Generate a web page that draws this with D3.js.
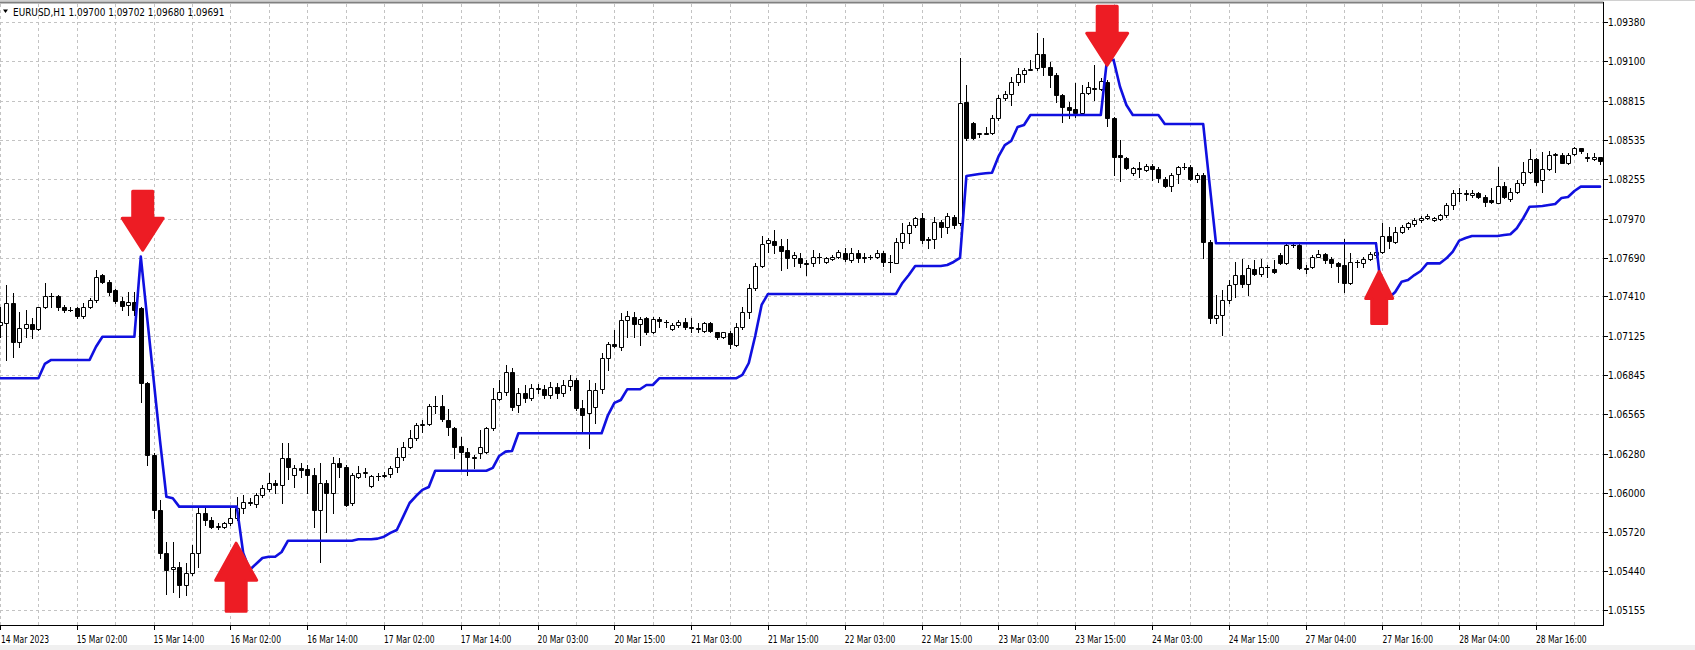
<!DOCTYPE html>
<html><head><meta charset="utf-8">
<script src="https://cdn.jsdelivr.net/npm/d3@7"></script>
<style>
html,body{margin:0;padding:0;background:#fff;}
svg{display:block;}
text{font-family:"DejaVu Sans",Tahoma,sans-serif;}
</style></head>
<body>
<svg id="chart" width="1695" height="650"></svg>
<script>
// ---------------- data ----------------
const header = "EURUSD,H1  1.09700 1.09702 1.09680 1.09691";
const xLabels = ["14 Mar 2023","15 Mar 02:00","15 Mar 14:00","16 Mar 02:00","16 Mar 14:00","17 Mar 02:00","17 Mar 14:00","20 Mar 03:00","20 Mar 15:00","21 Mar 03:00","21 Mar 15:00","22 Mar 03:00","22 Mar 15:00","23 Mar 03:00","23 Mar 15:00","24 Mar 03:00","24 Mar 15:00","27 Mar 04:00","27 Mar 16:00","28 Mar 04:00","28 Mar 16:00"];
const yTicks = [1.09380,1.09100,1.08815,1.08535,1.08255,1.07970,1.07690,1.07410,1.07125,1.06845,1.06565,1.06280,1.06000,1.05720,1.05440,1.05155];

const open = [
1.07205,1.07217,1.07361,1.07085,1.07181,1.07210,1.07174,1.07332,1.07416,1.07416,
1.07332,1.07313,1.07325,1.07272,1.07337,1.07385,1.07564,1.07516,1.07457,1.07380,
1.07349,1.07373,1.07325,1.06786,1.06271,1.05876,1.05565,1.05450,1.05469,1.05337,
1.05421,1.05565,1.05852,1.05804,1.05756,1.05756,1.05780,1.05816,1.05888,1.05936,
1.05919,1.05984,1.06024,1.06068,1.06056,1.06247,1.06127,1.06175,1.06168,1.06127,
1.05876,1.06068,1.05996,1.06211,1.06187,1.05924,1.06115,1.06144,1.06048,1.06120,
1.06118,1.06132,1.06183,1.06254,1.06331,1.06391,1.06487,1.06495,1.06623,1.06623,
1.06523,1.06468,1.06336,1.06295,1.06259,1.06283,1.06295,1.06463,1.06671,1.06724,
1.06867,1.06630,1.06717,1.06681,1.06752,1.06745,1.06702,1.06760,1.06717,1.06767,
1.06810,1.06609,1.06573,1.06618,1.06743,1.06966,1.07069,1.07050,1.07241,1.07265,
1.07212,1.07258,1.07157,1.07246,1.07229,1.07174,1.07205,1.07229,1.07193,1.07181,
1.07164,1.07222,1.07157,1.07121,1.07150,1.07062,1.07193,1.07301,1.07469,1.07629,
1.07797,1.07811,1.07773,1.07744,1.07684,1.07684,1.07648,1.07648,1.07696,1.07660,
1.07679,1.07696,1.07720,1.07672,1.07725,1.07689,1.07691,1.07691,1.07720,1.07660,
1.07653,1.07799,1.07864,1.07924,1.07972,1.07821,1.07821,1.07948,1.07912,1.07984,
1.07936,1.08810,1.08659,1.08580,1.08583,1.08583,1.08690,1.08834,1.08865,1.08954,
1.09009,1.09038,1.09050,1.09150,1.09062,1.09002,1.08858,1.08770,1.08755,1.08731,
1.08875,1.08911,1.08899,1.08954,1.08690,1.08427,1.08403,1.08295,1.08331,1.08319,
1.08350,1.08324,1.08252,1.08204,1.08288,1.08343,1.08340,1.08252,1.08283,1.07804,
1.07258,1.07277,1.07385,1.07497,1.07564,1.07500,1.07605,1.07572,1.07624,1.07608,
1.07708,1.07648,1.07780,1.07780,1.07612,1.07619,1.07696,1.07715,1.07677,1.07653,
1.07636,1.07504,1.07660,1.07653,1.07677,1.07708,1.07732,1.07845,1.07804,1.07876,
1.07907,1.07931,1.07960,1.07976,1.07960,1.07967,1.07996,1.08067,1.08156,1.08151,
1.08139,1.08151,1.08122,1.08103,1.08084,1.08204,1.08108,1.08163,1.08228,1.08307,
1.08395,1.08247,1.08324,1.08427,1.08427,1.08367,1.08431,1.08474,1.08415,1.08395,
1.08410];

const high = [
1.07337,1.07493,1.07433,1.07301,1.07313,1.07253,1.07337,1.07504,1.07437,1.07421,
1.07349,1.07337,1.07337,1.07361,1.07397,1.07600,1.07572,1.07528,1.07461,1.07409,
1.07445,1.07445,1.07337,1.06798,1.06283,1.05948,1.05648,1.05648,1.05505,1.05493,
1.05624,1.05888,1.05900,1.05828,1.05780,1.05792,1.05888,1.05972,1.05984,1.05960,
1.05996,1.06056,1.06140,1.06091,1.06355,1.06355,1.06199,1.06211,1.06199,1.06175,
1.06211,1.06092,1.06259,1.06247,1.06199,1.06139,1.06192,1.06175,1.06127,1.06139,
1.06151,1.06192,1.06319,1.06367,1.06451,1.06503,1.06523,1.06638,1.06695,1.06702,
1.06599,1.06475,1.06403,1.06319,1.06271,1.06451,1.06475,1.06750,1.06810,1.06918,
1.06896,1.06752,1.06774,1.06781,1.06781,1.06774,1.06796,1.06788,1.06810,1.06846,
1.06824,1.06666,1.06810,1.06786,1.07002,1.07085,1.07169,1.07289,1.07306,1.07301,
1.07265,1.07265,1.07260,1.07260,1.07241,1.07217,1.07241,1.07253,1.07253,1.07217,
1.07229,1.07229,1.07157,1.07157,1.07164,1.07217,1.07337,1.07500,1.07653,1.07845,
1.07828,1.07888,1.07821,1.07821,1.07732,1.07720,1.07672,1.07744,1.07720,1.07696,
1.07708,1.07744,1.07756,1.07756,1.07744,1.07720,1.07708,1.07744,1.07739,1.07708,
1.07828,1.07936,1.07948,1.07984,1.08007,1.07840,1.07984,1.07960,1.08008,1.07996,
1.09122,1.08930,1.08667,1.08588,1.08626,1.08714,1.08858,1.08889,1.08990,1.09050,
1.09050,1.09110,1.09301,1.09265,1.09098,1.09014,1.08865,1.08810,1.08942,1.08930,
1.08954,1.09074,1.08978,1.08966,1.08702,1.08535,1.08415,1.08343,1.08379,1.08362,
1.08362,1.08343,1.08271,1.08295,1.08348,1.08367,1.08355,1.08295,1.08295,1.07816,
1.07421,1.07457,1.07529,1.07660,1.07677,1.07636,1.07672,1.07677,1.07636,1.07672,
1.07720,1.07792,1.07787,1.07787,1.07636,1.07708,1.07744,1.07725,1.07696,1.07660,
1.07821,1.07725,1.07672,1.07696,1.07732,1.07804,1.07940,1.07912,1.07912,1.07924,
1.07948,1.07972,1.07988,1.08000,1.07979,1.08003,1.08079,1.08175,1.08187,1.08175,
1.08175,1.08163,1.08139,1.08187,1.08343,1.08235,1.08187,1.08247,1.08379,1.08467,
1.08403,1.08451,1.08458,1.08443,1.08439,1.08439,1.08482,1.08474,1.08443,1.08439,
1.08415];

const low = [
1.07121,1.06954,1.06978,1.07049,1.07121,1.07109,1.07169,1.07325,1.07337,1.07313,
1.07301,1.07303,1.07253,1.07253,1.07325,1.07373,1.07504,1.07421,1.07361,1.07313,
1.07277,1.07277,1.06654,1.06199,1.05816,1.05529,1.05270,1.05289,1.05253,1.05265,
1.05409,1.05469,1.05768,1.05744,1.05742,1.05744,1.05768,1.05804,1.05852,1.05912,
1.05900,1.05972,1.06015,1.05996,1.05924,1.06100,1.06044,1.06115,1.05996,1.05756,
1.05505,1.05720,1.05852,1.06115,1.05905,1.05912,1.06103,1.06115,1.06044,1.06092,
1.06115,1.06115,1.06151,1.06235,1.06319,1.06379,1.06439,1.06487,1.06571,1.06518,
1.06415,1.06247,1.06163,1.06127,1.06175,1.06247,1.06283,1.06451,1.06666,1.06702,
1.06594,1.06580,1.06652,1.06666,1.06717,1.06681,1.06681,1.06681,1.06695,1.06738,
1.06594,1.06429,1.06321,1.06499,1.06714,1.06882,1.07050,1.07026,1.07121,1.07121,
1.07062,1.07141,1.07145,1.07193,1.07193,1.07169,1.07193,1.07176,1.07157,1.07157,
1.07157,1.07157,1.07102,1.07109,1.07038,1.07054,1.07174,1.07253,1.07457,1.07620,
1.07732,1.07725,1.07600,1.07612,1.07629,1.07624,1.07564,1.07629,1.07653,1.07648,
1.07672,1.07684,1.07665,1.07660,1.07660,1.07660,1.07677,1.07684,1.07629,1.07588,
1.07648,1.07756,1.07792,1.07912,1.07792,1.07756,1.07756,1.07840,1.07864,1.07900,
1.07924,1.08535,1.08540,1.08554,1.08578,1.08578,1.08678,1.08822,1.08786,1.08930,
1.08954,1.09038,1.09038,1.09002,1.08918,1.08810,1.08667,1.08690,1.08702,1.08726,
1.08865,1.08822,1.08894,1.08635,1.08283,1.08243,1.08324,1.08283,1.08271,1.08314,
1.08247,1.08235,1.08200,1.08171,1.08228,1.08324,1.08247,1.08235,1.07684,1.07217,
1.07217,1.07134,1.07361,1.07409,1.07481,1.07421,1.07564,1.07557,1.07552,1.07581,
1.07643,1.07643,1.07768,1.07605,1.07576,1.07612,1.07691,1.07648,1.07624,1.07516,
1.07445,1.07500,1.07624,1.07624,1.07672,1.07696,1.07720,1.07756,1.07797,1.07869,
1.07893,1.07916,1.07948,1.07964,1.07955,1.07960,1.07984,1.08036,1.08098,1.08103,
1.08122,1.08115,1.08060,1.08079,1.08079,1.08115,1.08098,1.08151,1.08211,1.08295,
1.08211,1.08163,1.08319,1.08307,1.08367,1.08362,1.08427,1.08439,1.08386,1.08391,
1.08362];

const close = [
1.07229,1.07361,1.07085,1.07181,1.07212,1.07174,1.07332,1.07416,1.07411,1.07332,
1.07313,1.07311,1.07272,1.07337,1.07385,1.07552,1.07516,1.07445,1.07380,1.07342,
1.07370,1.07313,1.06786,1.06271,1.05876,1.05565,1.05445,1.05469,1.05337,1.05421,
1.05565,1.05852,1.05804,1.05756,1.05759,1.05780,1.05816,1.05888,1.05936,1.05924,
1.05984,1.06032,1.06068,1.06056,1.06247,1.06187,1.06175,1.06165,1.06127,1.05876,
1.06068,1.05996,1.06211,1.06187,1.05912,1.06127,1.06144,1.06151,1.06120,1.06118,
1.06127,1.06175,1.06259,1.06331,1.06391,1.06487,1.06495,1.06623,1.06620,1.06527,
1.06475,1.06331,1.06295,1.06259,1.06247,1.06331,1.06463,1.06671,1.06726,1.06867,
1.06616,1.06717,1.06681,1.06752,1.06745,1.06702,1.06760,1.06717,1.06774,1.06810,
1.06609,1.06558,1.06738,1.06738,1.06966,1.07069,1.07054,1.07241,1.07270,1.07212,
1.07246,1.07157,1.07246,1.07236,1.07224,1.07205,1.07229,1.07188,1.07181,1.07174,
1.07222,1.07164,1.07121,1.07157,1.07069,1.07193,1.07301,1.07469,1.07629,1.07785,
1.07816,1.07780,1.07739,1.07684,1.07708,1.07648,1.07646,1.07696,1.07694,1.07684,
1.07696,1.07727,1.07677,1.07725,1.07689,1.07691,1.07696,1.07720,1.07660,1.07658,
1.07804,1.07864,1.07924,1.07972,1.07816,1.07816,1.07948,1.07912,1.07989,1.07924,
1.08798,1.08547,1.08547,1.08583,1.08578,1.08690,1.08834,1.08865,1.08954,1.09009,
1.09038,1.09043,1.09150,1.09062,1.09002,1.08858,1.08770,1.08750,1.08731,1.08875,
1.08913,1.08899,1.08961,1.08690,1.08415,1.08410,1.08331,1.08331,1.08324,1.08350,
1.08324,1.08259,1.08204,1.08283,1.08343,1.08340,1.08252,1.08283,1.07804,1.07253,
1.07277,1.07385,1.07493,1.07564,1.07500,1.07612,1.07572,1.07624,1.07620,1.07588,
1.07648,1.07780,1.07778,1.07612,1.07610,1.07696,1.07715,1.07672,1.07653,1.07631,
1.07504,1.07660,1.07658,1.07677,1.07715,1.07732,1.07845,1.07811,1.07876,1.07912,
1.07936,1.07960,1.07976,1.07988,1.07972,1.07996,1.08067,1.08156,1.08154,1.08149,
1.08156,1.08122,1.08091,1.08086,1.08204,1.08122,1.08163,1.08228,1.08307,1.08395,
1.08235,1.08324,1.08427,1.08431,1.08371,1.08427,1.08474,1.08458,1.08403,1.08415,
1.08386];

const trail = [
1.06822,1.06822,1.06822,1.06822,1.06822,1.06822,1.06822,1.06925,1.06954,1.06954,
1.06954,1.06954,1.06954,1.06954,1.06954,1.07049,1.07121,1.07121,1.07121,1.07121,
1.07121,1.07121,1.07696,1.07255,1.06815,1.06374,1.05971,1.05960,1.05900,1.05900,
1.05900,1.05900,1.05900,1.05900,1.05900,1.05900,1.05900,1.05900,1.05567,1.05445,
1.05488,1.05531,1.05540,1.05540,1.05574,1.05655,1.05655,1.05655,1.05655,1.05655,
1.05655,1.05655,1.05655,1.05655,1.05655,1.05655,1.05665,1.05665,1.05665,1.05670,
1.05684,1.05711,1.05732,1.05828,1.05926,1.05976,1.06020,1.06041,1.06158,1.06158,
1.06158,1.06158,1.06158,1.06158,1.06158,1.06158,1.06158,1.06178,1.06264,1.06295,
1.06300,1.06427,1.06427,1.06427,1.06427,1.06427,1.06427,1.06427,1.06427,1.06427,
1.06427,1.06427,1.06427,1.06427,1.06427,1.06558,1.06645,1.06666,1.06743,1.06743,
1.06743,1.06774,1.06774,1.06822,1.06822,1.06822,1.06822,1.06822,1.06822,1.06822,
1.06822,1.06822,1.06822,1.06822,1.06822,1.06822,1.06846,1.06932,1.07126,1.07349,
1.07428,1.07428,1.07428,1.07428,1.07428,1.07428,1.07428,1.07428,1.07428,1.07428,
1.07428,1.07428,1.07428,1.07428,1.07428,1.07428,1.07428,1.07428,1.07428,1.07428,
1.07428,1.07507,1.07564,1.07629,1.07629,1.07629,1.07629,1.07629,1.07636,1.07658,
1.07687,1.08276,1.08283,1.08290,1.08295,1.08299,1.08414,1.08498,1.08527,1.08628,
1.08642,1.08714,1.08714,1.08714,1.08714,1.08714,1.08714,1.08714,1.08714,1.08714,
1.08714,1.08714,1.08714,1.09124,1.09109,1.08917,1.08786,1.08714,1.08714,1.08714,
1.08714,1.08714,1.08649,1.08649,1.08649,1.08649,1.08649,1.08649,1.08649,1.08218,
1.07792,1.07792,1.07792,1.07792,1.07792,1.07792,1.07792,1.07792,1.07792,1.07792,
1.07792,1.07792,1.07792,1.07792,1.07792,1.07792,1.07792,1.07792,1.07792,1.07792,
1.07792,1.07792,1.07792,1.07792,1.07792,1.07792,1.07385,1.07399,1.07442,1.07516,
1.07528,1.07564,1.07593,1.07648,1.07648,1.07648,1.07684,1.07732,1.07811,1.07830,
1.07845,1.07845,1.07845,1.07845,1.07845,1.07852,1.07857,1.07900,1.07972,1.08055,
1.08057,1.08060,1.08067,1.08074,1.08118,1.08125,1.08168,1.08199,1.08199,1.08199,
1.08199];

// signal arrows: bar position and price at the arrow tip
const arrowBars   = [22.3, 173, 36.9, 215.5];
const arrowPrices = [1.07732, 1.09061, 1.05648, 1.07600];
const arrowDirs   = ["down", "down", "up", "up"];
const arrowKinds  = ["large", "large", "tall", "small"];

// ---------------- layout ----------------
const svg = d3.select("#chart");
const W = 1695, H = 650;
const plotRight = 1603, plotBottom = 625, plotTop = 4;
const n = open.length;
const x = d3.scaleLinear().domain([0, n - 1]).range([0, 6.4 * (n - 1)]);
const y = d3.scaleLinear().domain([1.05155, 1.09380]).range([610.3, 22.3]);

svg.append("rect").attr("x",0).attr("y",0).attr("width",W).attr("height",H).attr("fill","#ffffff");
svg.append("rect").attr("x",0).attr("y",645).attr("width",W).attr("height",5).attr("fill","#f0f0f0");

svg.append("defs").append("clipPath").attr("id","plotclip")
  .append("rect").attr("x",0).attr("y",plotTop).attr("width",plotRight).attr("height",plotBottom-plotTop);

// grid
const grid = svg.append("g").attr("stroke","#c3c3c3").attr("stroke-width",1).attr("stroke-dasharray","3,3");
grid.selectAll("line.h").data(yTicks).join("line")
  .attr("x1",0).attr("x2",plotRight)
  .attr("y1",d=>Math.round(y(d))+0.5).attr("y2",d=>Math.round(y(d))+0.5);
const vGrid = d3.range(0, n, 6);
grid.selectAll("line.v").data(vGrid).join("line")
  .attr("x1",d=>Math.round(x(d))+0.5).attr("x2",d=>Math.round(x(d))+0.5)
  .attr("y1",plotTop).attr("y2",plotBottom);

// candles
const bars = d3.range(n).map(i => ({i, o:open[i], h:high[i], l:low[i], c:close[i]}));
const cg = svg.append("g").attr("clip-path","url(#plotclip)");
cg.selectAll("line.wick").data(bars).join("line")
  .attr("x1",d=>Math.round(x(d.i))+0.5).attr("x2",d=>Math.round(x(d.i))+0.5)
  .attr("y1",d=>Math.round(y(d.h))).attr("y2",d=>Math.round(y(d.l))+1)
  .attr("stroke","#000").attr("stroke-width",1);
cg.selectAll("path.body").data(bars).join("path")
  .attr("d", d => {
    const cx = Math.round(x(d.i));
    const yt = Math.round(y(Math.max(d.o,d.c))) + 0.5;
    const yb = Math.round(y(Math.min(d.o,d.c))) + 0.5;
    if (yb - yt < 1) return `M${cx-2},${yt}H${cx+3}`;
    return `M${cx-1.5},${yt}H${cx+2.5}V${yb}H${cx-1.5}Z`;
  })
  .attr("fill", d => d.c >= d.o ? "#fff" : "#000")
  .attr("stroke","#000").attr("stroke-width",1);

// trailing line
cg.append("path").datum(trail)
  .attr("d", d3.line().x((d,i)=>x(i)).y(d=>y(d)))
  .attr("fill","none").attr("stroke","#1010e0").attr("stroke-width",2.6)
  .attr("stroke-linejoin","round").attr("stroke-linecap","round");

// arrows
const arrowSize = {
  large:{sw:10, sl:27, hw:20.5, hl:32},
  tall:{sw:10, sl:31, hw:20.5, hl:37},
  small:{sw:7.5, sl:25, hw:13.5, hl:27}
};
function arrowPath(tx, ty, dir, s){
  const k = dir === "down" ? -1 : 1;
  const pts = [
    [tx, ty],
    [tx + s.hw, ty + k*s.hl],
    [tx + s.sw, ty + k*s.hl],
    [tx + s.sw, ty + k*(s.hl + s.sl)],
    [tx - s.sw, ty + k*(s.hl + s.sl)],
    [tx - s.sw, ty + k*s.hl],
    [tx - s.hw, ty + k*s.hl]
  ];
  return "M" + pts.map(p=>p.join(",")).join("L") + "Z";
}
const arrowData = arrowBars.map((b,i)=>({b, p:arrowPrices[i], dir:arrowDirs[i], kind:arrowKinds[i]}));
svg.append("g").selectAll("path").data(arrowData).join("path")
  .attr("d", d => {
    const s = arrowSize[d.kind];
    const off = d.dir === "down" ? -1.5 : 1.5;
    return arrowPath(x(d.b), y(d.p) + off, d.dir, s);
  })
  .attr("fill","#ed1c24").attr("stroke","#ed1c24").attr("stroke-width",3).attr("stroke-linejoin","round");

// frame
svg.append("rect").attr("x",0).attr("y",0).attr("width",W).attr("height",1).attr("fill","#d0d0d0");
svg.append("line").attr("x1",0).attr("x2",plotRight+0.5).attr("y1",2.5).attr("y2",2.5).attr("stroke","#808080").attr("stroke-width",2);
svg.append("line").attr("x1",plotRight+0.5).attr("x2",plotRight+0.5).attr("y1",2).attr("y2",plotBottom+0.5).attr("stroke","#000");
svg.append("line").attr("x1",0).attr("x2",plotRight+1).attr("y1",plotBottom+0.5).attr("y2",plotBottom+0.5).attr("stroke","#000");

// right axis
const ra = svg.append("g");
ra.selectAll("line").data(yTicks).join("line")
  .attr("x1",plotRight+1).attr("x2",plotRight+5)
  .attr("y1",d=>Math.round(y(d))+0.5).attr("y2",d=>Math.round(y(d))+0.5)
  .attr("stroke","#000");
ra.selectAll("text").data(yTicks).join("text")
  .attr("transform", d=>`translate(1608,${y(d)+4}) scale(0.82,1)`)
  .attr("font-size","11px").attr("fill","#000")
  .text(d=>d.toFixed(5));

// bottom axis
const ba = svg.append("g");
const labelBars = xLabels.map((t,i)=>i*12);
ba.selectAll("line").data(labelBars).join("line")
  .attr("x1",d=>Math.round(x(d))+0.5).attr("x2",d=>Math.round(x(d))+0.5)
  .attr("y1",plotBottom+1).attr("y2",plotBottom+5)
  .attr("stroke","#000");
ba.selectAll("text").data(xLabels).join("text")
  .attr("transform",(d,i)=>`translate(${Math.max(1, x(labelBars[i]))},643) scale(0.69,1)`)
  .attr("font-size","11px").attr("fill","#000")
  .text(d=>d);

// header
svg.append("path").attr("d","M3,9.5L8,9.5L5.5,13Z").attr("fill","#000");
svg.append("text").attr("transform","translate(13,15.5) scale(0.85,1)")
  .attr("font-size","10.5px").attr("fill","#000").text(header);
</script>
</body></html>
